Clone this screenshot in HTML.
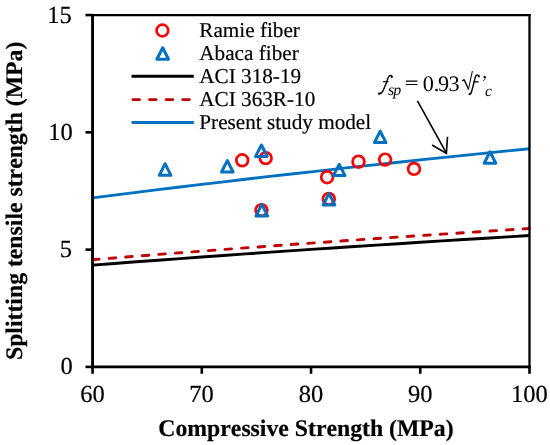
<!DOCTYPE html>
<html><head><meta charset="utf-8"><title>Splitting tensile strength vs compressive strength</title><style>
html,body{margin:0;padding:0;background:#fff;width:550px;height:445px;overflow:hidden}
svg{display:block;font-family:"Liberation Serif",serif;will-change:transform}
text{font-family:"Liberation Serif",serif;text-rendering:geometricPrecision;font-kerning:none;font-variant-ligatures:none;fill:#000}
</style></head><body>
<svg width="550" height="445" viewBox="0 0 550 445"><polyline fill="none" stroke="#000" stroke-width="2.9" points="92.55,265.15 114.40,263.47 136.25,261.81 158.09,260.18 179.94,258.58 201.79,257.00 223.63,255.44 245.48,253.90 267.33,252.39 289.18,250.89 311.02,249.41 332.87,247.95 354.72,246.51 376.57,245.08 398.42,243.68 420.26,242.28 442.11,240.91 463.96,239.54 485.81,238.20 507.65,236.86 529.50,235.54"/>
<polyline fill="none" stroke="#C00000" stroke-width="2.9" stroke-linecap="round" stroke-dasharray="6.6 10" points="92.55,259.70 114.40,257.93 136.25,256.18 158.09,254.47 179.94,252.78 201.79,251.11 223.63,249.47 245.48,247.85 267.33,246.25 289.18,244.67 311.02,243.12 332.87,241.58 354.72,240.06 376.57,238.56 398.42,237.07 420.26,235.61 442.11,234.16 463.96,232.72 485.81,231.30 507.65,229.90 529.50,228.51"/>
<polyline fill="none" stroke="#0070C0" stroke-width="2.8" points="92.55,197.92 114.40,195.13 136.25,192.38 158.09,189.68 179.94,187.01 201.79,184.39 223.63,181.80 245.48,179.24 267.33,176.72 289.18,174.24 311.02,171.78 332.87,169.36 354.72,166.96 376.57,164.60 398.42,162.26 420.26,159.95 442.11,157.66 463.96,155.40 485.81,153.16 507.65,150.95 529.50,148.75"/>
<g stroke="#000" stroke-width="2.6" fill="none">
<line x1="92.55" y1="13.90" x2="92.55" y2="368.20" stroke-width="2.9"/>
<line x1="529.50" y1="13.90" x2="529.50" y2="368.20" stroke-width="2.3"/>
<line x1="91.10" y1="15.05" x2="530.65" y2="15.05" stroke-width="2.3"/>
<line x1="91.10" y1="366.90" x2="530.65" y2="366.90" stroke-width="2.6"/>
<line x1="85.5" y1="366.90" x2="92.55" y2="366.90"/>
<line x1="85.5" y1="249.62" x2="92.55" y2="249.62"/>
<line x1="85.5" y1="132.33" x2="92.55" y2="132.33"/>
<line x1="85.5" y1="15.05" x2="92.55" y2="15.05"/>
<line x1="92.55" y1="366.90" x2="92.55" y2="373.8"/>
<line x1="201.79" y1="366.90" x2="201.79" y2="373.8"/>
<line x1="311.02" y1="366.90" x2="311.02" y2="373.8"/>
<line x1="420.26" y1="366.90" x2="420.26" y2="373.8"/>
<line x1="529.50" y1="366.90" x2="529.50" y2="373.8"/>
</g>
<g fill="none" stroke="#FF0000" stroke-width="2.70">
<circle cx="242.20" cy="160.30" r="5.85"/>
<circle cx="265.70" cy="158.10" r="5.85"/>
<circle cx="261.50" cy="210.10" r="5.85"/>
<circle cx="328.80" cy="198.90" r="5.85"/>
<circle cx="327.10" cy="177.20" r="5.85"/>
<circle cx="358.50" cy="161.70" r="5.85"/>
<circle cx="385.10" cy="159.60" r="5.85"/>
<circle cx="414.00" cy="168.90" r="5.85"/>
</g>
<g fill="none" stroke="#0070C0" stroke-width="3.00" stroke-linejoin="round">
<path d="M165.10 163.70L170.90 175.30L159.30 175.30Z"/>
<path d="M227.30 160.60L233.10 172.00L221.50 172.00Z"/>
<path d="M261.40 145.00L267.20 156.40L255.60 156.40Z"/>
<path d="M261.80 204.30L267.60 215.90L256.00 215.90Z"/>
<path d="M329.00 193.50L334.80 204.90L323.20 204.90Z"/>
<path d="M339.20 164.40L345.00 175.60L333.40 175.60Z"/>
<path d="M380.20 131.20L386.00 142.60L374.40 142.60Z"/>
<path d="M490.00 151.80L495.80 163.20L484.20 163.20Z"/>
</g>
<circle cx="162.4" cy="30.5" r="5.85" fill="none" stroke="#FF0000" stroke-width="2.70"/>
<g fill="none" stroke="#0070C0" stroke-width="3.00" stroke-linejoin="round"><path d="M162.70 47.80L168.50 59.20L156.90 59.20Z"/></g>
<line x1="131.5" y1="76.3" x2="193.8" y2="76.3" stroke="#000" stroke-width="2.9"/>
<line x1="132.95" y1="99.6" x2="193.8" y2="99.6" stroke="#C00000" stroke-width="2.9" stroke-linecap="round" stroke-dasharray="6.6 10"/>
<line x1="131.5" y1="122.4" x2="193.8" y2="122.4" stroke="#0070C0" stroke-width="3"/>
<text x="199.30" y="36.70" font-size="21.20" stroke="#000" stroke-width="0.20">Ramie fiber</text>
<text x="199.30" y="59.75" font-size="21.20" stroke="#000" stroke-width="0.20">Abaca fiber</text>
<text x="199.30" y="82.80" font-size="21.20" stroke="#000" stroke-width="0.20">ACI 318-19</text>
<text x="199.30" y="105.85" font-size="21.20" stroke="#000" stroke-width="0.20">ACI 363R-10</text>
<text x="199.30" y="128.90" font-size="21.20" stroke="#000" stroke-width="0.20">Present study model</text>
<text x="60.58" y="374.40" font-size="24.50" stroke="#000" stroke-width="0.20">0</text>
<text x="59.81" y="257.12" font-size="24.50" stroke="#000" stroke-width="0.20">5</text>
<text x="48.33" y="139.83" font-size="24.50" stroke="#000" stroke-width="0.20">10</text>
<text x="47.36" y="22.55" font-size="24.50" stroke="#000" stroke-width="0.20">15</text>
<text x="80.24" y="402.26" font-size="24.50" stroke="#000" stroke-width="0.20">60</text>
<text x="189.20" y="402.26" font-size="24.50" stroke="#000" stroke-width="0.20">70</text>
<text x="298.77" y="402.26" font-size="24.50" stroke="#000" stroke-width="0.20">80</text>
<text x="408.08" y="402.26" font-size="24.50" stroke="#000" stroke-width="0.20">90</text>
<text x="510.91" y="402.26" font-size="24.50" stroke="#000" stroke-width="0.20">100</text>
<text x="158.34" y="435.70" font-size="23.74" font-weight="bold" stroke="#000" stroke-width="0.20">Compressive Strength (MPa)</text>
<g transform="translate(22.45,360.06) rotate(-90)"><text x="0.00" y="0.00" font-size="23.74" font-weight="bold" stroke="#000" stroke-width="0.20">Splitting tensile strength (MPa)</text></g>
<text x="422.75" y="90.70" font-size="22.20">0</text><text x="433.84" y="90.70" font-size="22.20">.</text><text x="437.95" y="90.70" font-size="22.20">9</text><text x="448.40" y="90.70" font-size="22.20">3</text>
<text x="388.00" y="95.40" font-size="16.00" font-style="italic">s</text><text x="393.14" y="95.40" font-size="16.00" font-style="italic">p</text><text x="485.10" y="95.50" font-size="15.50" font-style="italic">c</text>
<g stroke="#000" fill="none"><path d="M405.8 81.1H417.5M405.8 84.5H417.5" stroke-width="1.1"/><path d="M462.1 81L464.2 79.7L468.6 89.5" stroke-width="1.4" stroke-linejoin="bevel"/><path d="M468.4 89.5L472.4 71" stroke-width="1.0"/><path d="M485.3 77.2C485.3 78.8 484.4 80.2 483.1 80.9" stroke-width="0.9"/><path d="M392.2 77.1C391.8 75.4 390 74.8 388.9 76.3C388.1 77.4 387.5 79.5 386.7 82L383.4 90C382.4 92.4 380.7 94.2 378.5 93.7" stroke-width="1.4"/><path d="M383.1 81.6H388.5M473.6 81.9H478.6" stroke-width="1.2"/><path d="M479.2 76.6C478.9 74.9 476.9 74.5 475.9 75.8C475.2 76.8 474.7 79 474.1 82L471.9 90.5C471.4 92.7 470.4 94.4 469.1 94.3" stroke-width="1.4"/></g><g fill="#000"><circle cx="391.8" cy="76.9" r="1.05"/><circle cx="379" cy="93.6" r="1.05"/><circle cx="478.8" cy="76.4" r="1.0"/><circle cx="484.6" cy="76.9" r="1.15"/><circle cx="469.5" cy="94.2" r="1.0"/></g>
<g stroke="#000" stroke-width="1.6" fill="none" stroke-linejoin="miter"><line x1="417.4" y1="100.8" x2="446.4" y2="153.2"/><polyline points="432.1,145 446.4,153.4 447.5,136.8"/></g></svg>
</body></html>
